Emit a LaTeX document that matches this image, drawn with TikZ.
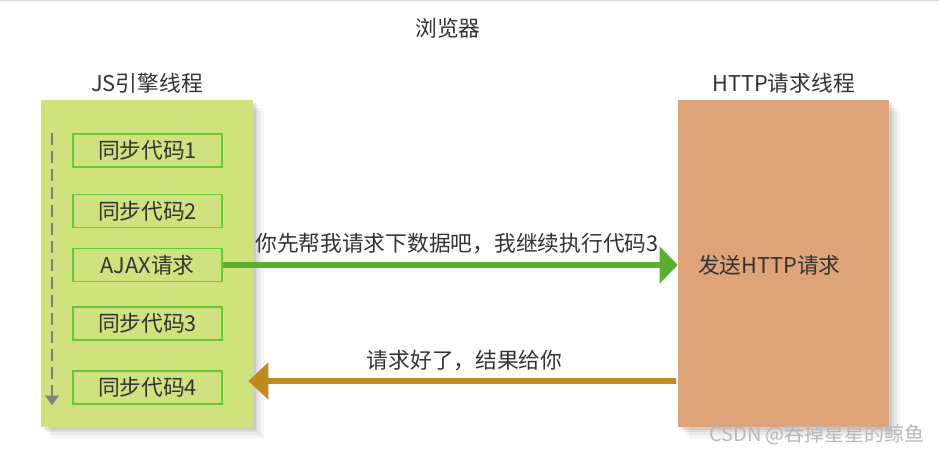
\documentclass[tikz,border=0pt]{standalone}
\usepackage{fontspec}
\setmainfont{Noto Sans CJK SC}
\usetikzlibrary{
    arrows.meta,
    positioning,
    shadows
}

\definecolor{jsfill}{RGB}{207,226,125}
\definecolor{codeline}{RGB}{102,204,51}
\definecolor{httpfill}{RGB}{223,163,122}
\definecolor{reqgreen}{RGB}{90,175,50}
\definecolor{resbrown}{RGB}{192,138,32}
\definecolor{textgray}{RGB}{51,51,51}

\begin{document}
\begin{tikzpicture}[
    x=0.75pt, y=-0.75pt,
    font=\fontsize{16.3}{19}\selectfont, text=textgray,
    thread/.style={rectangle, minimum width=159pt, minimum height=245.25pt, draw=none,
                   drop shadow={shadow xshift=8pt, shadow yshift=-8pt, fill=black, opacity=0.04},
                   drop shadow={shadow xshift=6pt, shadow yshift=-6pt, fill=black, opacity=0.05},
                   drop shadow={shadow xshift=4pt, shadow yshift=-4pt, fill=black, opacity=0.06},
                   drop shadow={shadow xshift=2pt, shadow yshift=-2pt, fill=black, opacity=0.07}},
    codebox/.style={rectangle, minimum width=111.75pt, minimum height=24.75pt,
                    text centered, draw=codeline, line width=1.2pt, fill=jsfill},
    reqarrow/.style={-{Triangle[length=13.5pt, width=27pt]}, line width=4.5pt, draw=reqgreen},
    resarrow/.style={-{Triangle[length=15pt, width=27pt]}, line width=4.5pt, draw=resbrown},
    flow/.style={-{Triangle[length=7pt, width=10.5pt]}, draw=gray, line width=0.9pt,
                 dash pattern=on 9pt off 4.5pt}
]
    \useasboundingbox (0,0) rectangle (939,454);
    \draw [black!15, line width=1pt] (0,0.7) -- (939,0.7);

    % Browser
    \node (browser) at (448,28) {浏览器};

    % Threads
    \node (js) [thread, fill=jsfill] at (147,263.5) {};
    \node (http) [thread, fill=httpfill, minimum width=158.25pt] at (783.5,263.5) {};
    \node (jstitle) [above=1pt of js] {JS引擎线程};
    \node (httptitle) [above=1pt of http] {HTTP请求线程};

    % Code on the JS thread
    \node (code1) [codebox] at (147.5,150.5) {同步代码1};
    \node (code2) [codebox] at (147.5,211) {同步代码2};
    \node (ajax) [codebox] at (147.5,265) {AJAX请求};
    \node (code3) [codebox] at (147.5,323.5) {同步代码3};
    \node (code4) [codebox] at (147.5,387.5) {同步代码4};

    % Execution order
    \coordinate (flowtop) at (52,133);
    \coordinate (flowbot) at (52,405);
    \draw [flow] (flowtop) -- (flowbot);

    % Request sent
    \node (send) [right=15pt of http.west |- ajax, inner sep=0pt] {发送HTTP请求};

    % Connections
    \draw [reqarrow] (ajax.east) -- node[above=3pt, xshift=5pt] {你先帮我请求下数据吧，我继续执行代码3} (ajax.east -| http.west);
    \coordinate (back) at (676,381);
    \draw [resarrow, shorten >=-3.75pt] (back) -- node[above=2pt] {请求好了，结果给你} (back -| js.east);

    % Watermark
    \node (mark) [text=black!28, font=\fontsize{15}{18}\selectfont] at (817,435) {CSDN @吞掉星星的鲸鱼};

\end{tikzpicture}
\end{document}
